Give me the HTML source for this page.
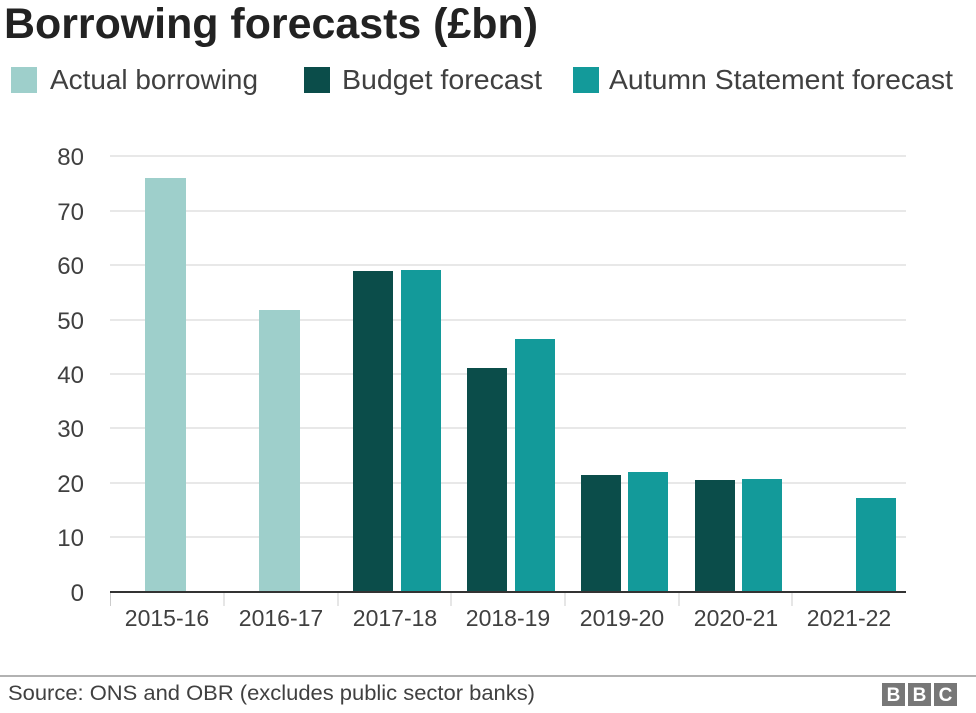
<!DOCTYPE html>
<html><head><meta charset="utf-8"><style>
body{margin:0;background:#fff;}
svg{display:block;font-family:"Liberation Sans",Arial,sans-serif;}
</style></head><body>
<svg width="976" height="713" viewBox="0 0 976 713">
<text x="4" y="38" font-size="43" font-weight="bold" fill="#222" textLength="534" lengthAdjust="spacingAndGlyphs">Borrowing forecasts (£bn)</text>
<rect x="11" y="67" width="26" height="26" fill="#9ecfcb"/>
<text x="50" y="89" font-size="28" fill="#404040" textLength="208" lengthAdjust="spacingAndGlyphs">Actual borrowing</text>
<rect x="304" y="67" width="26" height="26" fill="#0b4d4a"/>
<text x="342" y="89" font-size="28" fill="#404040" textLength="200" lengthAdjust="spacingAndGlyphs">Budget forecast</text>
<rect x="573" y="67" width="26" height="26" fill="#139a9a"/>
<text x="609" y="89" font-size="28" fill="#404040" textLength="344" lengthAdjust="spacingAndGlyphs">Autumn Statement forecast</text>
<g stroke="#d0d0d0" stroke-width="1">
<line x1="110" y1="156" x2="906" y2="156"/><line x1="110" y1="211" x2="906" y2="211"/>
<line x1="110" y1="265" x2="906" y2="265"/><line x1="110" y1="320" x2="906" y2="320"/>
<line x1="110" y1="374" x2="906" y2="374"/><line x1="110" y1="428" x2="906" y2="428"/>
<line x1="110" y1="483" x2="906" y2="483"/><line x1="110" y1="537" x2="906" y2="537"/>
</g>
<g font-size="24" fill="#404040" text-anchor="end">
<text x="84" y="165">80</text><text x="84" y="220">70</text><text x="84" y="274">60</text>
<text x="84" y="329">50</text><text x="84" y="383">40</text><text x="84" y="437">30</text>
<text x="84" y="492">20</text><text x="84" y="546">10</text><text x="84" y="601">0</text>
</g>
<rect x="145" y="178" width="41" height="414" fill="#9ecfcb"/>
<rect x="259" y="310" width="41" height="282" fill="#9ecfcb"/>
<rect x="353" y="271" width="40" height="321" fill="#0b4d4a"/>
<rect x="401" y="270" width="40" height="322" fill="#139a9a"/>
<rect x="467" y="368" width="40" height="224" fill="#0b4d4a"/>
<rect x="515" y="339" width="40" height="253" fill="#139a9a"/>
<rect x="581" y="475" width="40" height="117" fill="#0b4d4a"/>
<rect x="628" y="472" width="40" height="120" fill="#139a9a"/>
<rect x="695" y="480" width="40" height="112" fill="#0b4d4a"/>
<rect x="742" y="479" width="40" height="113" fill="#139a9a"/>
<rect x="856" y="498" width="40" height="94" fill="#139a9a"/>
<line x1="110" y1="592" x2="906" y2="592" stroke="#333" stroke-width="2"/>
<g stroke="#ccc" stroke-width="1">
<line x1="110.5" y1="593" x2="110.5" y2="606"/><line x1="224" y1="593" x2="224" y2="606"/>
<line x1="338" y1="593" x2="338" y2="606"/><line x1="451" y1="593" x2="451" y2="606"/>
<line x1="565" y1="593" x2="565" y2="606"/><line x1="679" y1="593" x2="679" y2="606"/>
<line x1="792" y1="593" x2="792" y2="606"/>
</g>
<g font-size="23" fill="#404040" text-anchor="middle">
<text x="167" y="626">2015-16</text><text x="281" y="626">2016-17</text><text x="395" y="626">2017-18</text>
<text x="508" y="626">2018-19</text><text x="622" y="626">2019-20</text><text x="736" y="626">2020-21</text>
<text x="849" y="626">2021-22</text>
</g>
<line x1="0" y1="676" x2="976" y2="676" stroke="#999" stroke-width="1.5"/>
<text x="8" y="700" font-size="21" fill="#404040" textLength="527" lengthAdjust="spacingAndGlyphs">Source: ONS and OBR (excludes public sector banks)</text>
<g fill="#777"><rect x="882" y="683" width="23" height="23"/><rect x="908" y="683" width="23" height="23"/><rect x="934" y="683" width="23" height="23"/></g>
<g font-size="19" font-weight="bold" fill="#fff" text-anchor="middle">
<text x="893.5" y="701">B</text><text x="919.5" y="701">B</text><text x="945.5" y="701">C</text>
</g>
</svg>
</body></html>
